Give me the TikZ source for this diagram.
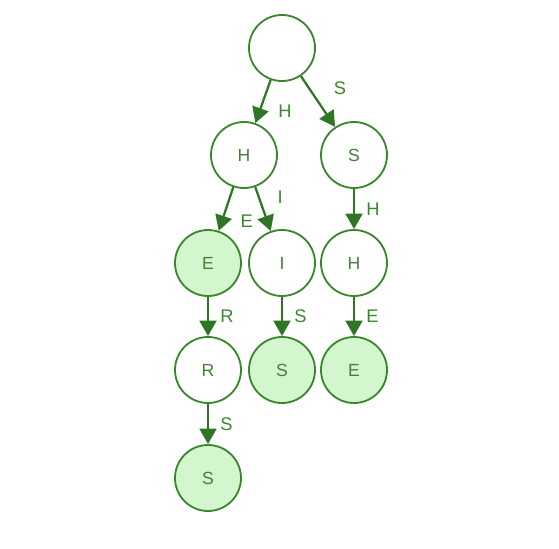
\documentclass[tikz,border=0pt]{standalone}
\usepackage{fontspec}
\setmainfont{Liberation Sans}
\usetikzlibrary{arrows.meta}

\definecolor{trieline}{RGB}{58,135,46}
\definecolor{triearrow}{RGB}{47,118,36}
\definecolor{triefill}{RGB}{212,246,206}
\definecolor{trietext}{RGB}{70,125,60}

\begin{document}
\begin{tikzpicture}[
  state/.style={circle, draw=trieline, line width=1.3pt, fill=white, minimum size=1.65cm, inner sep=0pt, text=trietext, font=\fontsize{12.5}{14}\selectfont},
  final/.style={state, fill=triefill},
  trans/.style={draw=triearrow, line width=1.6pt, -{Triangle[length=11pt,width=12pt]}},
  lbl/.style={auto, text=trieline, font=\fontsize{13}{15}\selectfont, inner sep=8pt}
]
\useasboundingbox (0,0) rectangle (13.975,13.7);

% nodes
\node[state] (root) at (7.05,12.5) {};
\node[state] (h) at (6.1,9.825) {H};
\node[state] (s) at (8.85,9.825) {S};
\node[final] (he) at (5.2,7.125) {E};
\node[state] (hi) at (7.05,7.125) {I};
\node[state] (sh) at (8.85,7.125) {H};
\node[state] (her) at (5.2,4.45) {R};
\node[final] (his) at (7.05,4.45) {S};
\node[final] (she) at (8.85,4.45) {E};
\node[final] (hers) at (5.2,1.75) {S};

% edges
\draw[trans] (root) -- node[lbl, pos=0.3] {H} (h);
\draw[trans] (root) -- node[lbl, pos=0.6] {S} (s);
\draw[trans] (h) -- node[lbl, pos=0.35] {E} (he);
\draw[trans] (h) -- node[lbl, pos=0.65] {I} (hi);
\draw[trans] (s) -- node[lbl] {H} (sh);
\draw[trans] (he) -- node[lbl] {R} (her);
\draw[trans] (hi) -- node[lbl] {S} (his);
\draw[trans] (sh) -- node[lbl] {E} (she);
\draw[trans] (her) -- node[lbl] {S} (hers);

\end{tikzpicture}
\end{document}
